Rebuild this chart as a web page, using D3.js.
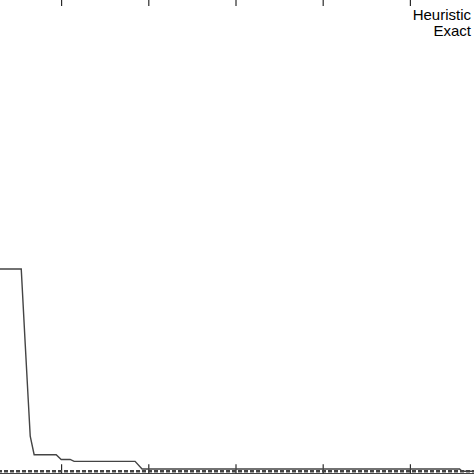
<!DOCTYPE html>
<html>
<head>
<meta charset="utf-8">
<script src="https://cdn.jsdelivr.net/npm/d3@7"></script>
<style>
  body { margin: 0; background: #fff; }
  svg { display: block; }
  .axis text { display: none; }
  .legend text { font-family: "Liberation Sans", Arial, sans-serif; font-size: 15px; fill: #000; }
</style>
</head>
<body>
<svg id="chart" width="474" height="474"></svg>
<script>
"use strict";
// heuristic curve (x = iteration, y = value)
const heurX = [0, 54.2, 58.8, 62.2, 64.5, 69.0, 94.3, 100.0, 110.3, 114.9, 184.8, 192.8, 557, 560, 600];
const heurY = [42.9, 42.9, 27.0, 15.5, 7.8, 3.9, 3.9, 2.9, 2.9, 2.5, 2.5, 0.89, 0.89, 0.42, 0.42];
// exact solution
const exactX = [0, 600];
const exactY = [0.42, 0.42];
const xTicks = [100, 200, 300, 400, 500, 600];
const legendLabels = ["Heuristic", "Exact"];

const margin = { top: -3, right: -23, bottom: 0.75, left: -26 };
const svg = d3.select("#chart");
const W = +svg.attr("width"), H = +svg.attr("height");
const width = W - margin.left - margin.right;
const height = H - margin.top - margin.bottom;

const x = d3.scaleLinear().domain([0, 600]).range([0, width]);
const y = d3.scaleLinear().domain([0, 100]).range([height, 0]);

const g = svg.append("g").attr("transform", `translate(${margin.left},${margin.top})`);

// frame with inward ticks
g.append("g").attr("class", "axis")
  .call(d3.axisTop(x).tickValues(xTicks).tickSize(-9).tickFormat(""));
g.append("g").attr("class", "axis bottom")
  .attr("transform", `translate(0,${height})`)
  .call(d3.axisBottom(x).tickValues(xTicks).tickSize(-9).tickFormat(""));
g.selectAll(".axis path, .axis line").attr("stroke", "#000").attr("stroke-width", 1);
g.select(".bottom path").attr("stroke", "#444").attr("stroke-width", 1.5);

const line = d3.line().x(d => x(d[0])).y(d => y(d[1]));

g.append("path")
  .datum(exactX.map((v, i) => [v, exactY[i]]))
  .attr("fill", "none")
  .attr("stroke", "#444")
  .attr("stroke-width", 2.5)
  .attr("stroke-dasharray", "4,2")
  .attr("d", line);

g.append("path")
  .datum(heurX.map((v, i) => [v, heurY[i]]))
  .attr("fill", "none")
  .attr("stroke", "#444")
  .attr("stroke-width", 1.4)
  .attr("d", line);

// legend, text right-aligned
const legend = svg.append("g").attr("class", "legend");
legend.selectAll("text")
  .data(legendLabels)
  .enter()
  .append("text")
  .attr("x", 471)
  .attr("y", (d, i) => 20 + i * 16)
  .attr("text-anchor", "end")
  .text(d => d);
</script>
</body>
</html>
